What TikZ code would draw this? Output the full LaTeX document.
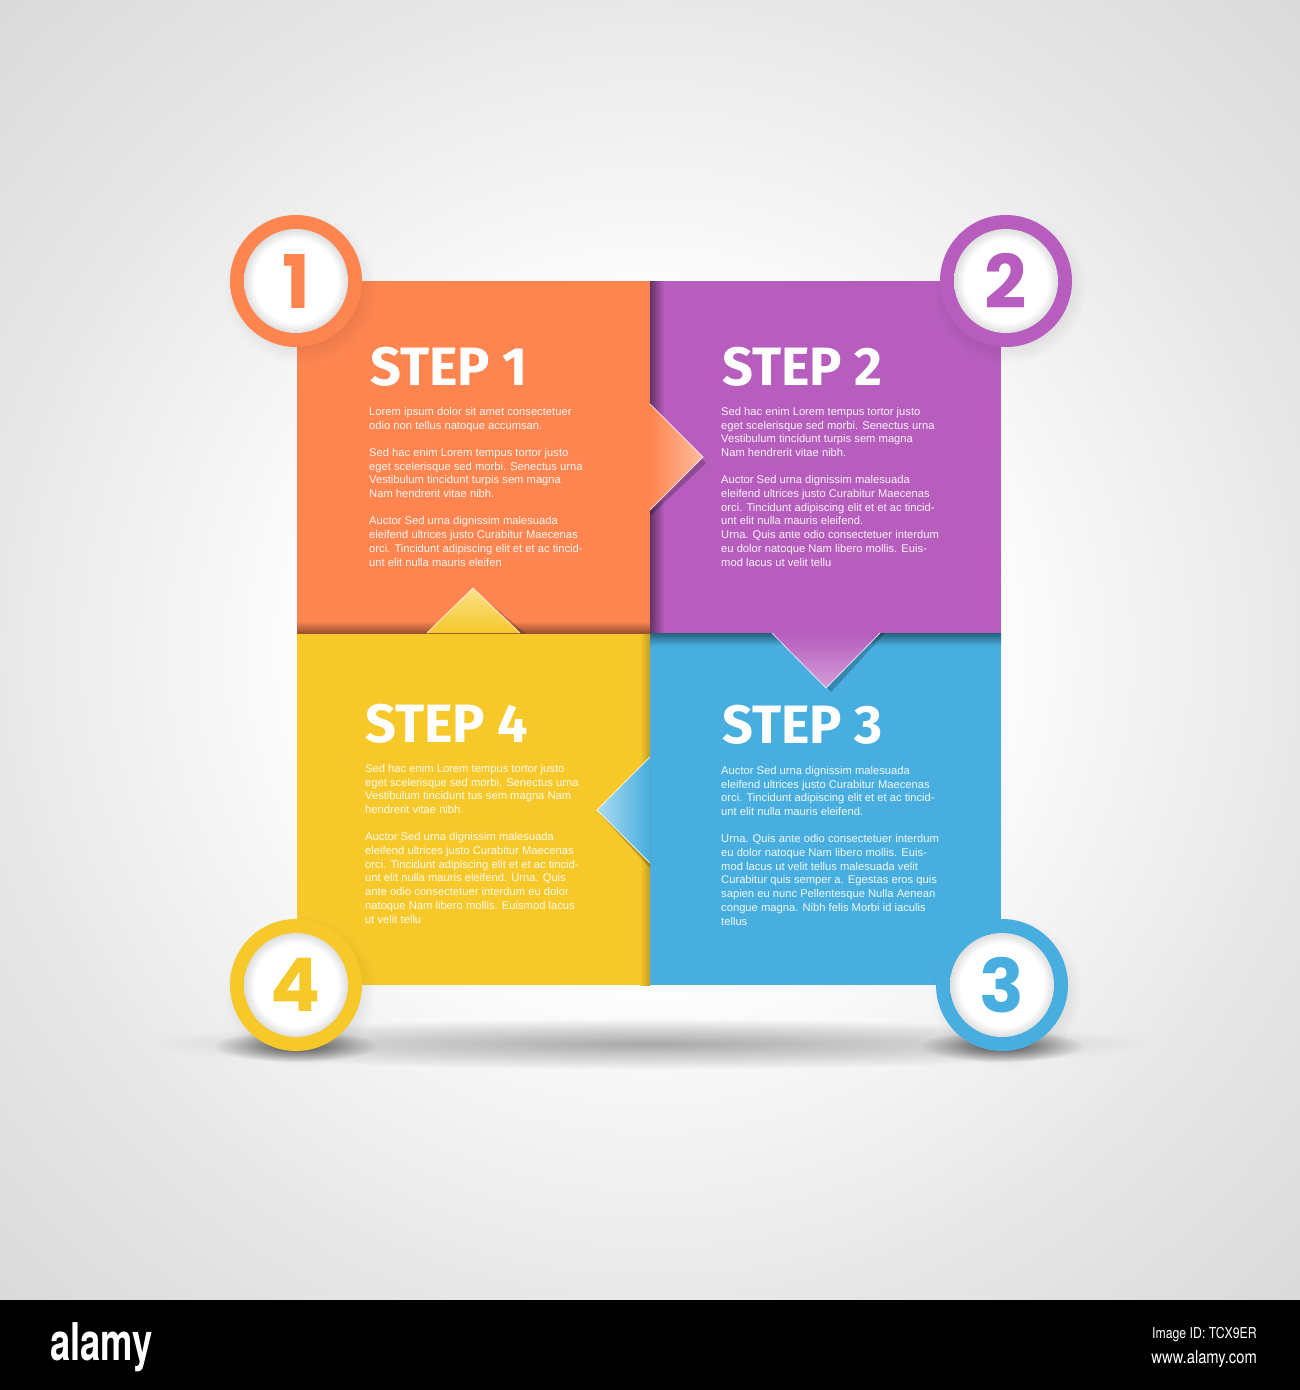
\documentclass[tikz,border=0pt]{standalone}
\usepackage{fontspec}
\usepackage{graphicx}
\setmainfont{Liberation Sans}
\newfontfamily\headfont{Fira Sans}
\newfontfamily\numfont{Poppins}
\newfontfamily\markfont{TeX Gyre Heros}
\usetikzlibrary{calc}
\usetikzlibrary{fadings}

\definecolor{stepA}{HTML}{FE8550}
\definecolor{stepB}{HTML}{B65DBE}
\definecolor{stepC}{HTML}{47AEDF}
\definecolor{stepD}{HTML}{F6C82A}

\pgfdeclareradialshading{backdrop}{\pgfpoint{0bp}{0bp}}{color(0bp)=(white); color(12bp)=(white); color(25bp)=(black!9); color(36bp)=(black!15); color(50bp)=(black!15)}
\pgfdeclareradialshading{disc}{\pgfpoint{0bp}{0bp}}{color(0bp)=(white); color(20bp)=(white); color(25bp)=(black!13); color(50bp)=(black!13)}
\tikzfading[name=softfade, inner color=transparent!0, outer color=transparent!100]

\tikzset{
  title/.style={anchor=base west, text=white, inner sep=0pt,
    font=\headfont\bfseries\fontsize{54}{54}\selectfont},
  body/.style={anchor=north west, text=white, text opacity=.92, align=left,
    inner sep=0pt, font=\fontsize{11.2}{13.7}\selectfont},
  ring/.style={circle, minimum size=132pt, inner sep=0pt},
  numtxt/.style={inner sep=0pt, font=\numfont\bfseries\fontsize{74}{74}\selectfont},
  tabshadow/.style={fill=black, opacity=.22},
  tabedge/.style={draw=white, opacity=.75, line width=.8pt},
}

\begin{document}
\begin{tikzpicture}[x=1pt, y=-1pt]
\useasboundingbox (0,0) rectangle (1300,1390);

% backdrop
\shade[shading=backdrop] (0,0) rectangle (1300,1300);
\fill[black] (0,1300) rectangle (1300,1390);

% ground shadows
\fill[black, opacity=.32, path fading=softfade] (650,1044) ellipse (500 and 26);
\fill[black, opacity=.6, path fading=softfade] (296,1046) ellipse (82 and 16);
\fill[black, opacity=.6, path fading=softfade] (1002,1046) ellipse (82 and 16);

% panels
\fill[stepA] (297,281) rectangle (650,633);
\fill[stepB] (650,281) rectangle (1001,633);
\fill[stepC] (650,633) rectangle (1001,985);
\fill[stepD] (297,633) rectangle (650,985);

% edges where one panel lies over the next
\shade[left color=stepB!55!black, right color=stepB] (650,281) rectangle (664,633);
\shade[top color=stepC!55!black, bottom color=stepC] (650,633) rectangle (1001,646);
\shade[right color=stepD!78!black, left color=stepD] (640,633) rectangle (650,985);
\shade[bottom color=stepA!60!black, top color=stepA] (297,621) rectangle (650,633);

% tabs
\fill[tabshadow] (650,410) -- (706,463) -- (650,516) -- cycle;
\shade[left color=stepA, right color=stepA!55!white]
    (650,404) -- (703,457) -- (650,510) -- cycle;
\draw[tabedge] (650,404) -- (703,457) -- (650,510);

\fill[tabshadow] (777,633) -- (831,692) -- (885,633) -- cycle;
\shade[top color=stepB, bottom color=stepB!60!white]
    (772,633) -- (826,688) -- (880,633) -- cycle;
\draw[tabedge] (772,633) -- (826,688) -- (880,633);

\fill[tabshadow] (650,763) -- (601,815) -- (650,868) -- cycle;
\shade[right color=stepC, left color=stepC!45!white]
    (650,757) -- (597,810) -- (650,863) -- cycle;
\draw[tabedge] (650,757) -- (597,810) -- (650,863);

\fill[tabshadow] (432,633) -- (478,593) -- (525,633) -- cycle;
\shade[bottom color=stepD, top color=stepD!55!white]
    (427,633) -- (473,588) -- (520,633) -- cycle;
\draw[tabedge] (427,633) -- (473,588) -- (520,633);

% titles
\node[title] (t1) at (370,385) {STEP 1};
\node[title] (t2) at (722,385) {STEP 2};
\node[title] (t3) at (722,743) {STEP 3};
\node[title] (t4) at (365,742) {STEP 4};

% texts
\node[body] (b1) at (369,407) {Lorem ipsum dolor sit amet consectetuer\\
odio non tellus natoque accumsan.\\[13.7pt]
Sed hac enim Lorem tempus tortor justo\\
eget scelerisque sed morbi. Senectus urna\\
Vestibulum tincidunt turpis sem magna\\
Nam hendrerit vitae nibh.\\[13.7pt]
Auctor Sed urna dignissim malesuada\\
eleifend ultrices justo Curabitur Maecenas\\
orci. Tincidunt adipiscing elit et et ac tincid-\\
unt elit nulla mauris eleifen};

\node[body] (b2) at (721,407) {Sed hac enim Lorem tempus tortor justo\\
eget scelerisque sed morbi. Senectus urna\\
Vestibulum tincidunt turpis sem magna\\
Nam hendrerit vitae nibh.\\[13.7pt]
Auctor Sed urna dignissim malesuada\\
eleifend ultrices justo Curabitur Maecenas\\
orci. Tincidunt adipiscing elit et et ac tincid-\\
unt elit nulla mauris eleifend.\\
Urna. Quis ante odio consectetuer interdum\\
eu dolor natoque Nam libero mollis. Euis-\\
mod lacus ut velit tellu};

\node[body] (b3) at (721,766) {Auctor Sed urna dignissim malesuada\\
eleifend ultrices justo Curabitur Maecenas\\
orci. Tincidunt adipiscing elit et et ac tincid-\\
unt elit nulla mauris eleifend.\\[13.7pt]
Urna. Quis ante odio consectetuer interdum\\
eu dolor natoque Nam libero mollis. Euis-\\
mod lacus ut velit tellus malesuada velit\\
Curabitur quis semper a. Egestas eros quis\\
sapien eu nunc Pellentesque Nulla Aenean\\
congue magna. Nibh felis Morbi id iaculis\\
tellus};

\node[body] (b4) at (365,764) {Sed hac enim Lorem tempus tortor justo\\
eget scelerisque sed morbi. Senectus urna\\
Vestibulum tincidunt tus sem magna Nam\\
hendrerit vitae nibh.\\[13.7pt]
Auctor Sed urna dignissim malesuada\\
eleifend ultrices justo Curabitur Maecenas\\
orci. Tincidunt adipiscing elit et et ac tincid-\\
unt elit nulla mauris eleifend. Urna. Quis\\
ante odio consectetuer interdum eu dolor\\
natoque Nam libero mollis. Euismod lacus\\
ut velit tellu};

% number badges
\foreach \n/\c/\x/\y in {1/stepA/296/281, 2/stepB/1006/281, 3/stepC/1002/985, 4/stepD/296/985} {
  \fill[black, opacity=.3, path fading=softfade] (\x+4,\y+7) circle (76);
  \node[ring, fill=\c] (ring\n) at (\x,\y) {};
  \shade[shading=disc] (ring\n.center) circle (52);
  \node[numtxt, text=\c] (num\n) at (ring\n.center) {\n};
}

% footer
\node[anchor=base west, text=white, inner sep=0pt,
  font=\markfont\bfseries\fontsize{52}{52}\selectfont] (logo) at (50,1360)
  {\scalebox{0.7}[1]{alamy}};
\node[anchor=base east, text=white, inner sep=0pt,
  font=\markfont\fontsize{15}{15}\selectfont] (imgid) at (1257,1338)
  {\scalebox{0.82}[1]{Image ID: TCX9ER}};
\node[anchor=base east, text=white, inner sep=0pt,
  font=\markfont\fontsize{18}{18}\selectfont] (site) at (1257,1363)
  {\scalebox{0.82}[1]{www.alamy.com}};

\end{tikzpicture}
\end{document}
